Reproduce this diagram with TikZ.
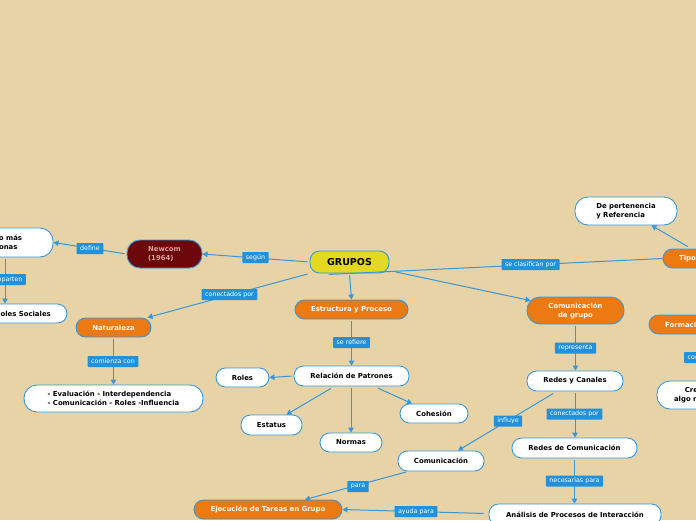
\documentclass[tikz,border=0pt]{standalone}
\usepackage{fontspec}
\setmainfont{DejaVu Sans}
\usetikzlibrary{arrows.meta,calc}
\definecolor{bg}{RGB}{232,211,167}
\definecolor{ln}{RGB}{52,152,219}
\definecolor{lb}{RGB}{33,145,220}
\definecolor{orng}{RGB}{236,121,18}
\definecolor{dred}{RGB}{108,8,10}
\definecolor{ylw}{RGB}{228,216,32}
\definecolor{pinkt}{RGB}{215,160,160}
\begin{document}
\begin{tikzpicture}[x=1pt,y=-1pt,
 box/.style={draw=ln, line width=0.9pt, rounded corners=9.5pt, inner sep=0pt, align=center,
   font=\bfseries\fontsize{6.9}{9}\selectfont, text=black, fill=white},
 obox/.style={box, fill=orng, text=white},
 sz/.style 2 args={minimum width=#1pt, minimum height=#2pt},
 lbl/.style={fill=lb, text=white, font=\fontsize{6.3}{7}\selectfont, inner xsep=3.5pt, inner ysep=0pt,
   minimum height=11pt, rounded corners=0.6pt},
 con/.style={draw=ln, line width=1pt},
 arr/.style={con, -{Triangle[length=5pt,width=5.5pt]}, shorten <=2pt}
]
\fill[bg] (0,0) rectangle (696,520);
\useasboundingbox (0,0) rectangle (696,520);

% nodes
\node[box, fill=ylw, sz={79}{22}, font=\bfseries\fontsize{9.5}{11}\selectfont] (grupos) at (349.5,262) {GRUPOS};
\node[box, fill=dred, text=pinkt, sz={75}{28}, rounded corners=13pt, align=left] (newcom) at (164.5,254) {Newcom\\(1964)};
\node[box, sz={102}{29}, rounded corners=13pt, align=left] (dosmas) at (2,242.5) {Dos o más\\personas};
\node[box, sz={88}{19}] (rolessoc) at (23,313.5) {Roles Sociales};
\node[obox, sz={75}{19}] (naturaleza) at (113.5,327.5) {Naturaleza};
\node[box, sz={179}{27}, rounded corners=13pt, align=left] (evaluacion) at (113.5,398.5) {- Evaluación - Interdependencia\\- Comunicación - Roles -Influencia};
\node[obox, sz={113}{19}] (estructura) at (351.5,309.5) {Estructura y Proceso};
\node[box, sz={115}{20}] (relacion) at (351.5,376) {Relación de Patrones};
\node[box, sz={53}{19}] (roles) at (242.5,377.5) {Roles};
\node[box, sz={61}{20}] (estatus) at (271.5,425) {Estatus};
\node[box, sz={62}{19}] (normas) at (351,442.5) {Normas};
\node[box, sz={68}{19}] (cohesion) at (434,413.5) {Cohesión};
\node[obox, sz={97}{27}, rounded corners=13pt] (comgrupo) at (575.5,310.5) {Comunicación\\de grupo};
\node[box, sz={96}{20}] (redescan) at (575,381) {Redes y Canales};
\node[box, sz={86}{20}] (comunicacion) at (441,461) {Comunicación};
\node[box, sz={125}{20}] (redescom) at (574.5,448) {Redes de Comunicación};
\node[box, sz={172}{21}] (analisis) at (575,514.5) {Análisis de Procesos de Interacción};
\node[obox, sz={148}{19}] (ejecucion) at (268,509.5) {Ejecución de Tareas en Grupo};
\node[obox, sz={53}{19}] (tipos) at (689.5,258.5) {Tipos};
\node[box, sz={102}{28}, rounded corners=13pt, align=left] (pertenencia) at (626,211) {De pertenencia\\y Referencia};
\node[obox, sz={73}{19}] (formacion) at (685.5,324.5) {Formación};
\node[box, sz={77}{28}, rounded corners=13pt] (crear) at (695.5,395) {Crear\\algo nuevo};

% connectors
\draw[arr] (grupos.west) -- (newcom.east);
\draw[arr] (newcom.west) -- (dosmas.east);
\draw[arr] ($(dosmas.south)+(3,0)$) -- ($(dosmas.south |- rolessoc.north)+(3,0)$);
\draw[arr] (grupos.south west) -- ($(naturaleza.north east)+(-4,0)$);
\draw[arr] (grupos.south) -- (estructura.north);
\draw[arr] (naturaleza.south) -- (evaluacion.north);
\draw[arr] (estructura.south) -- (relacion.north);
\draw[arr] (relacion.west) -- (roles.east);
\draw[arr] ($(relacion.south)+(-19,1)$) -- ($(estatus.north)+(15,0)$);
\draw[arr] ($(relacion.south)+(-0.5,0)$) -- (normas.north);
\draw[arr] ($(relacion.south)+(25,1)$) -- ($(cohesion.north)+(-22,0)$);
\draw[arr] ($(grupos.south east)+(4,-2)$) -- ($(comgrupo.north west)+(4,4)$);
\draw[con] ($(grupos.south west)+(19,1)$) -- (tipos.west);
\draw[arr] ($(tipos.north)+(0,-1)$) -- ($(pertenencia.south east)+(-26,0)$);
\draw[arr] (comgrupo.south) -- ($(redescan.north)+(0.5,0)$);
\draw[arr] ($(redescan.south)+(-20,1)$) -- ($(comunicacion.north)+(17,0)$);
\draw[arr] (redescan.south) -- ($(redescom.north)+(0.5,0)$);
\draw[arr] (redescom.south) -- ($(analisis.north)+(-0.5,0)$);
\draw[arr] ($(analisis.west)+(-3,-1)$) -- (ejecucion.east);
\draw[arr] ($(comunicacion.south)+(-33,0)$) -- ($(ejecucion.north)+(37,0)$);
\draw[arr] ($(formacion.south)+(20,0)$) -- ($(crear.north)+(10,0)$);

% labels
\node[lbl] (l1) at (90,248.5) {define};
\node[lbl, anchor=east] (l2) at (26,279.5) {comparten};
\node[lbl] (l3) at (255.5,257.5) {según};
\node[lbl] (l4) at (229.5,294.5) {conectados por};
\node[lbl] (l5) at (113,361.5) {comienza con};
\node[lbl] (l6) at (351.5,342.5) {se refiere};
\node[lbl] (l7) at (530.5,264.5) {se clasifican por};
\node[lbl] (l8) at (575.5,348) {representa};
\node[lbl] (l9) at (574.5,414) {conectados por};
\node[lbl] (l10) at (508,421) {influye};
\node[lbl] (l11) at (574.5,481) {necesarias para};
\node[lbl] (l12) at (358,486.5) {para};
\node[lbl] (l13) at (416,511.5) {ayuda para};
\node[lbl, anchor=west] (l14) at (684,357.5) {consiste en};
\end{tikzpicture}
\end{document}
